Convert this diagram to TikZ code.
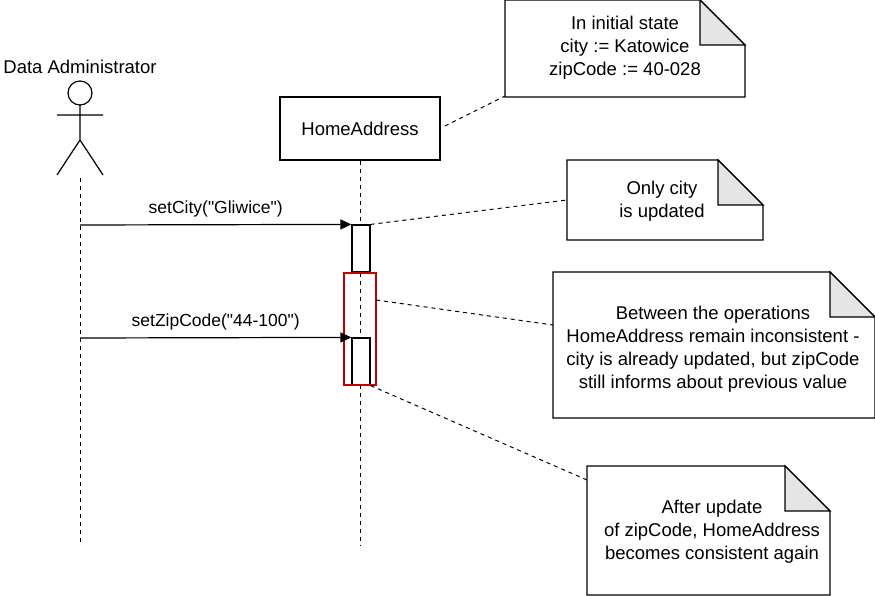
\documentclass[tikz,border=0pt]{standalone}
\usepackage{fontspec}
\setmainfont{Liberation Sans}
\usetikzlibrary{arrows.meta}
\begin{document}
\begin{tikzpicture}[x=1pt,y=-1pt,line width=1.2pt,
  life/.style={dashed,line width=1pt,dash pattern=on 4pt off 4pt},
  link/.style={dashed,line width=1pt,dash pattern=on 4pt off 4pt},
  msg/.style={-{Triangle[length=11pt,width=10pt]}},
  txt/.style={font=\fontsize{18.5}{23}\selectfont,align=center,inner sep=0pt},
  lbl/.style={font=\fontsize{17.5}{20}\selectfont,inner sep=0pt}]
\useasboundingbox[fill=white] (0,0) rectangle (875,596);
\newcommand\notebox[5]{% x1,y1,x2,y2,name
  \draw[fill=white] (#1,#2) -- ({#3-45},#2) -- (#3,{#2+45}) -- (#3,#4) -- (#1,#4) -- cycle;
  \draw[fill=black!10] ({#3-45},#2) -- ({#3-45},{#2+45}) -- (#3,{#2+45}) -- cycle;
  \coordinate (#5) at (#1,{(#2+#4)/2});}
% actor
\node[lbl,font=\fontsize{18.5}{20}\selectfont] (actorname) at (80,67) {Data Administrator};
\draw (80,93) circle (12);
\draw (80,105) -- (80,140) (57,115) -- (103,115) (57,175) -- (80,140) -- (103,175);
\coordinate (actorbot) at (80,178);
\coordinate (actorend) at (80,545);
\draw[life] (actorbot) -- (actorend);
% object
\node[txt,draw,fill=white,minimum width=160pt,minimum height=63pt] (home) at (360,128.5) {HomeAddress};
\coordinate (homeend) at (360,545);
\draw[life] (home.south) -- (homeend);
% activations
\node[draw,fill=white,minimum width=18pt,minimum height=47pt,inner sep=0pt] (act1) at (361,248.5) {};
\node[draw,fill=white,minimum width=18pt,minimum height=47pt,inner sep=0pt] (act2) at (361,361.5) {};
\node[draw=red!75!black,line width=2pt,minimum width=32pt,minimum height=112pt,inner sep=0pt] (gap) at (360,329) {};
% messages
\coordinate (m1) at (80,225);
\coordinate (m2) at (80,338);
\draw[msg] (m1) -- (act1.north west) node[lbl,midway,above=7pt] {setCity(\textquotedbl Gliwice\textquotedbl)};
\draw[msg] (m2) -- (act2.north west) node[lbl,midway,above=7pt] {setZipCode(\textquotedbl 44-100\textquotedbl)};
% notes
\notebox{505}{0}{745}{97}{n1}
\node[txt] at (625,48) {In initial state\\city := Katowice\\zipCode := 40-028};
\notebox{567}{160}{763}{240}{n2}
\node[txt] at (662,201) {Only city\\is updated};
\notebox{553}{272}{875}{418}{n3}
\node[txt] at (713,349) {Between the operations\\HomeAddress remain inconsistent -\\city is already updated, but zipCode\\still informs about previous value};
\notebox{587}{466}{830}{595}{n4}
\node[txt] at (712,532) {After update\\of zipCode, HomeAddress\\becomes consistent again};
% links
\coordinate (l1) at (445,126);
\coordinate (l1e) at (505,96);
\draw[link] (l1) -- (l1e);
\draw[link] (act1.north east) -- (567,200);
\draw[link] (376,300) -- (553,325);
\draw[link] (act2.south east) -- (587,480);
\end{tikzpicture}
\end{document}
